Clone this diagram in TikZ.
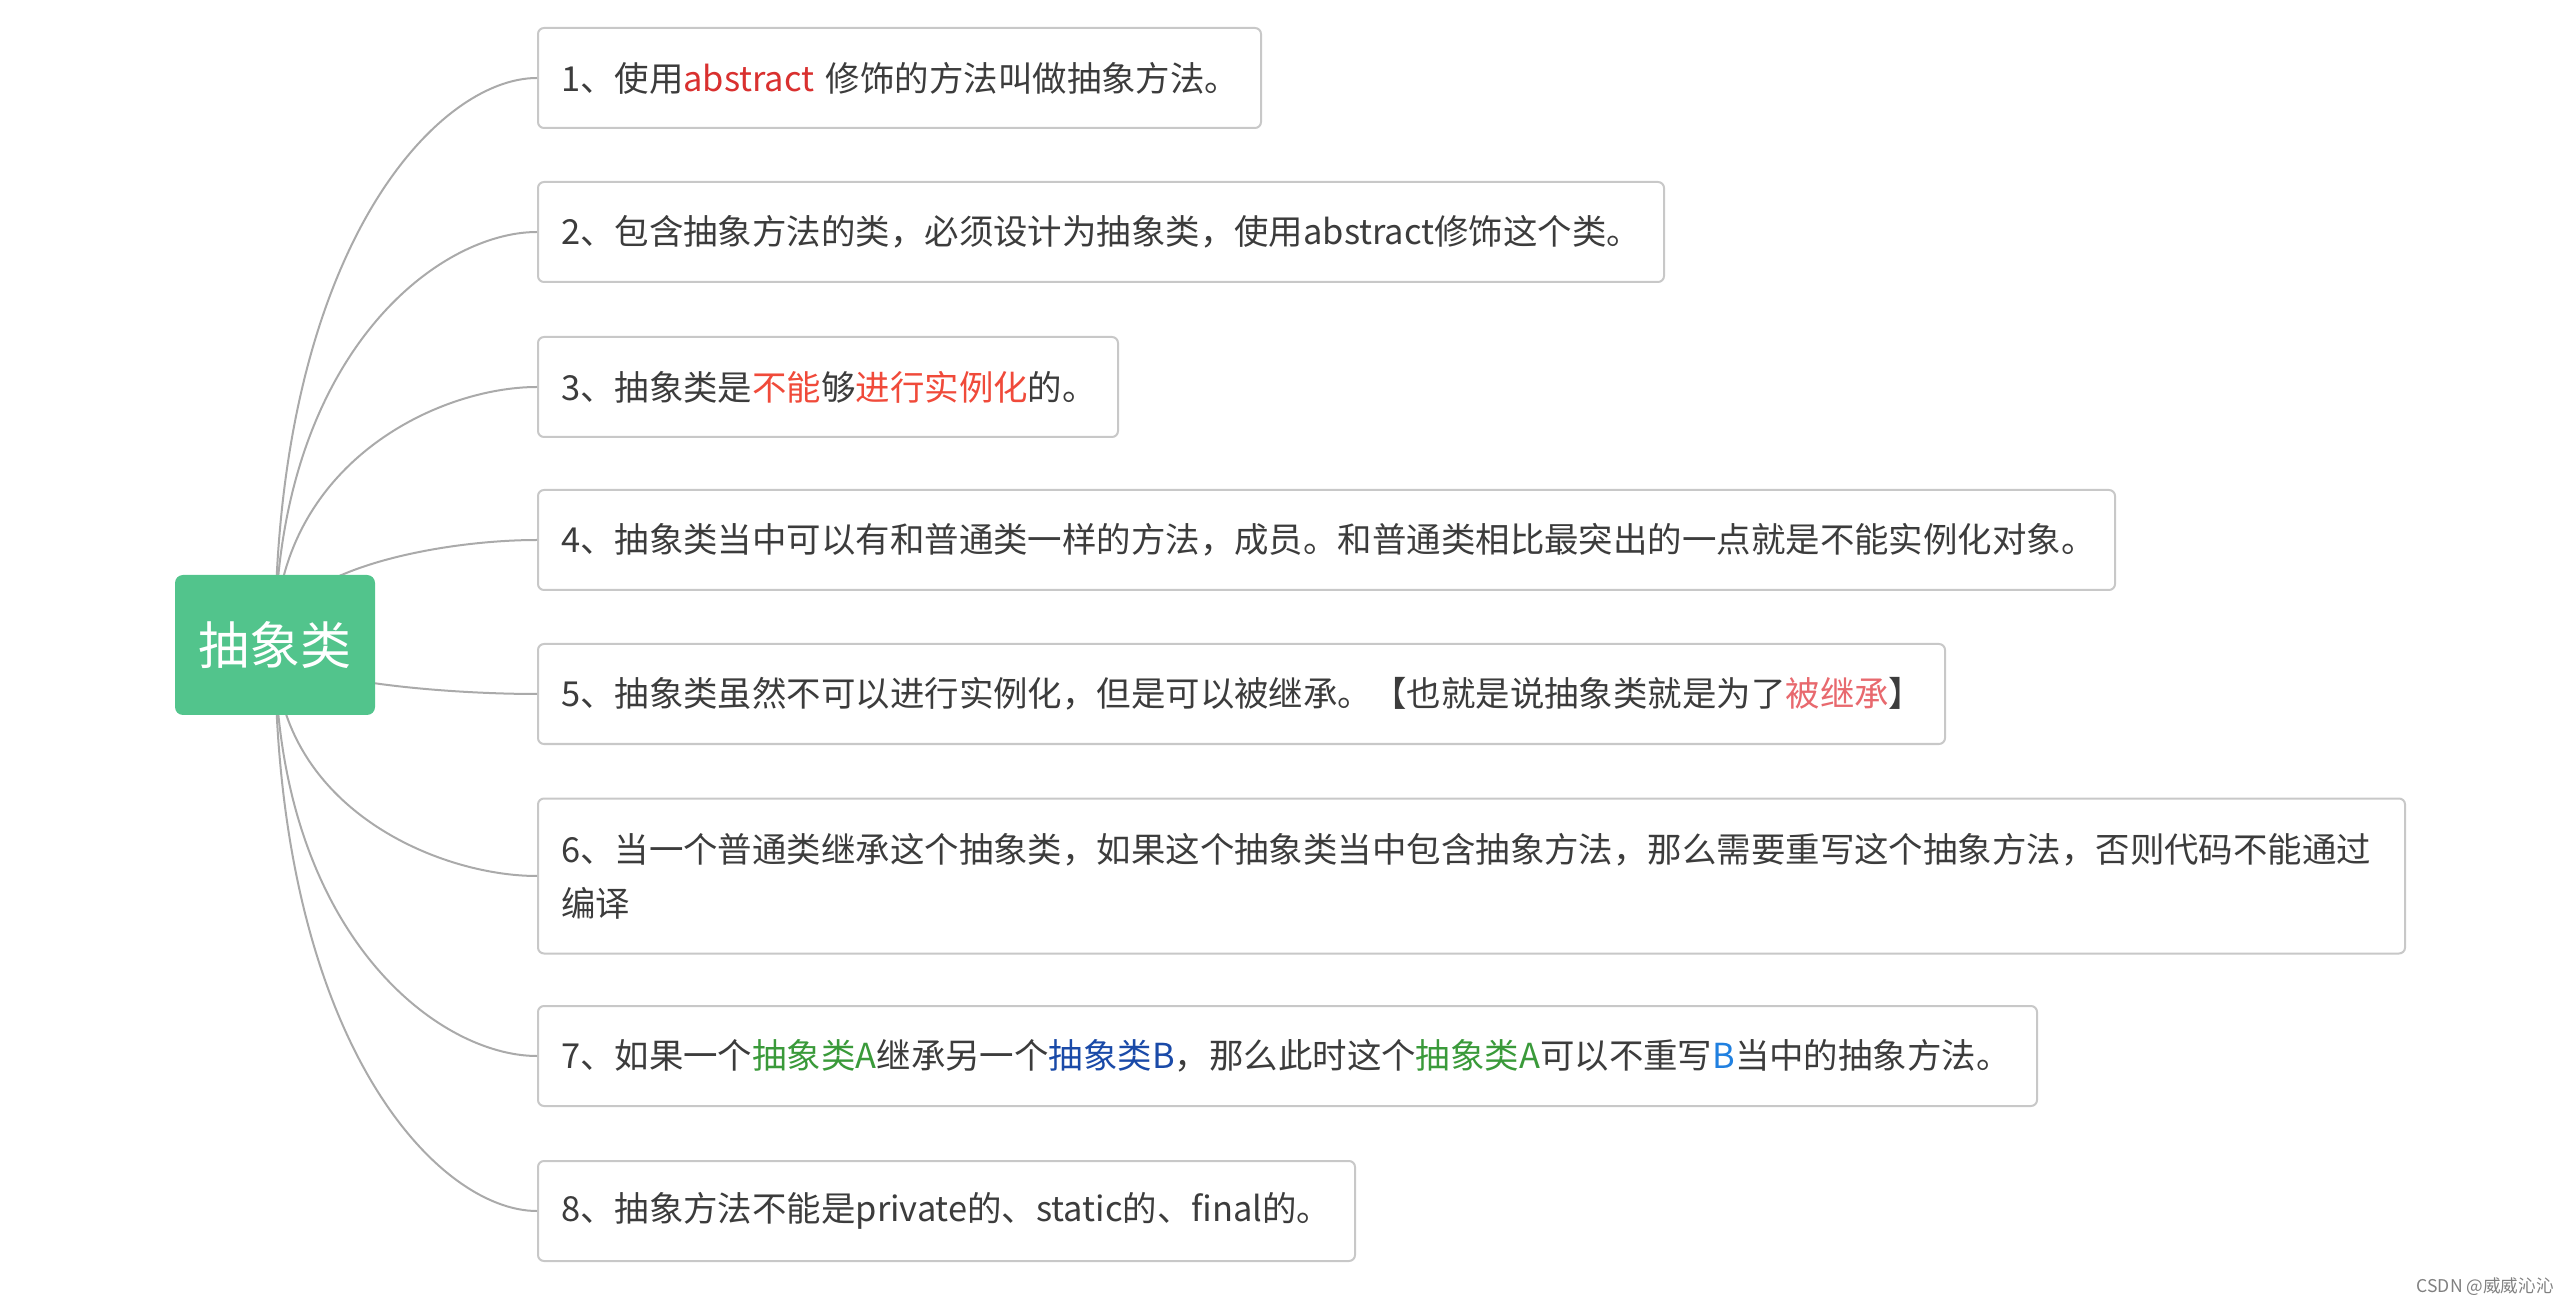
\documentclass[tikz,border=0pt]{standalone}
\usepackage{fontspec}
\setmainfont{Noto Sans CJK SC}
\usepackage{tikz}
\usetikzlibrary{calc}

\definecolor{txtgray}{RGB}{60,60,60}
\definecolor{boxgray}{RGB}{200,200,200}
\definecolor{linkgray}{RGB}{170,170,170}
\definecolor{topicgreen}{RGB}{82,196,140}
\definecolor{cdred}{RGB}{217,48,47}
\definecolor{cred}{RGB}{240,74,58}
\definecolor{cpink}{RGB}{232,105,110}
\definecolor{cgreen}{RGB}{58,154,58}
\definecolor{cblue}{RGB}{26,74,168}
\definecolor{clblue}{RGB}{32,128,224}

\tikzset{
  notebox/.style={rectangle, rounded corners=0.06cm, draw=boxgray, line width=0.02cm,
    fill=white, anchor=west, minimum height=1cm, inner xsep=0.23cm, align=left,
    text=txtgray, font=\fontsize{9.8pt}{15.4pt}\selectfont},
  topic/.style={rectangle, rounded corners=0.08cm, fill=topicgreen, minimum width=2cm,
    minimum height=1.4cm, text=white, font=\fontsize{14.5pt}{17pt}\selectfont},
  branch/.style={draw=linkgray, line width=0.02cm,
    to path={.. controls ($(\tikztostart)!0.7!(\tikztostart |- \tikztotarget)$)
      and ($(\tikztotarget)!0.38!(\tikztotarget -| \tikztostart)$) .. (\tikztotarget)}},
}

\begin{document}
\begin{tikzpicture}[]
		\useasboundingbox (0,0) rectangle (25.76,-13.06);
		\coordinate (hub) at (2.75,-6.45);

		\path (5.37,-0.78) node[notebox, text width=6.77cm] (n1) {1、使用\textcolor{cdred}{abstract}~修饰的方法叫做抽象方法。}
  		(5.37,-2.32) node[notebox, text width=10.80cm] (n2) {2、包含抽象方法的类，必须设计为抽象类，使用abstract修饰这个类。}
  		(5.37,-3.87) node[notebox, text width=5.34cm] (n3) {3、抽象类是\textcolor{cred}{不能}够\textcolor{cred}{进行实例化}的。}
  		(5.37,-5.40) node[notebox, text width=15.31cm] (n4) {4、抽象类当中可以有和普通类一样的方法，成员。和普通类相比最突出的一点就是不能实例化对象。}
  		(5.37,-6.94) node[notebox, text width=13.61cm] (n5) {5、抽象类虽然不可以进行实例化，但是可以被继承。【也就是说抽象类就是为了\textcolor{cpink}{被继承}】}
  		(5.37,-8.76) node[notebox, text width=18.21cm, minimum height=1.55cm] (n6) {6、当一个普通类继承这个抽象类，如果这个抽象类当中包含抽象方法，那么需要重写这个抽象方法，否则代码不能通过\\编译}
  		(5.37,-10.56) node[notebox, text width=14.53cm] (n7) {7、如果一个\textcolor{cgreen}{抽象类A}继承另一个\textcolor{cblue}{抽象类B}，那么此时这个\textcolor{cgreen}{抽象类A}可以不重写\textcolor{clblue}{B}当中的抽象方法。}
  		(5.37,-12.11) node[notebox, text width=7.71cm] (n8) {8、抽象方法不能是private的、static的、final的。};

		\draw[branch] (hub) to (n1.west);
		\draw[branch] (hub) to (n2.west);
		\draw[branch] (hub) to (n3.west);
		\draw[branch] (hub) to (n4.west);
		\draw[branch] (hub) to (n5.west);
		\draw[branch] (hub) to (n6.west);
		\draw[branch] (hub) to (n7.west);
		\draw[branch] (hub) to (n8.west);

		\path (hub) node[topic] (root) {抽象类}
  		(25.66,-12.87) node[anchor=east, text=gray, font=\fontsize{5pt}{6pt}\selectfont] (mark) {CSDN @威威沁沁};
	\end{tikzpicture}
\end{document}
